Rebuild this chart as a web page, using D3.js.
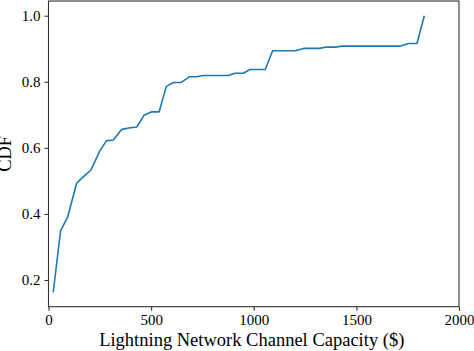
<!DOCTYPE html>
<html>
<head>
<meta charset="utf-8">
<script src="https://cdn.jsdelivr.net/npm/d3@7"></script>
<style>
  body { margin: 0; background: #fff; }
  svg { display: block; }
  .axis text { font-family: "Liberation Serif", "Times New Roman", serif; font-size: 15px; fill: #000; }
  .axis path, .axis line { stroke: #333; stroke-width: 1.1px; }
  .label { font-family: "Liberation Serif", "Times New Roman", serif; font-size: 18.5px; fill: #000; }
</style>
</head>
<body>
<svg width="474" height="351"></svg>
<script>
// channel capacity ($) and cumulative share
var capacity = [23, 59, 93, 113, 137, 165, 207, 250, 282, 316, 357, 392, 430, 466, 503, 539,
                574, 608, 647, 686, 722, 754, 876, 909, 950, 981, 1056, 1092, 1202, 1243,
                1321, 1354, 1397, 1430, 1714, 1755, 1795, 1831];
var cdf = [0.163, 0.349, 0.390, 0.437, 0.493, 0.510, 0.533, 0.591, 0.621, 0.624, 0.656, 0.660,
           0.663, 0.699, 0.709, 0.709, 0.786, 0.798, 0.798, 0.815, 0.815, 0.819, 0.819, 0.826,
           0.826, 0.837, 0.837, 0.894, 0.894, 0.901, 0.901, 0.905, 0.905, 0.908, 0.908, 0.916,
           0.916, 1.0];
var xTicks = [0, 500, 1000, 1500, 2000];
var yTicks = [0.2, 0.4, 0.6, 0.8, 1.0];

var plotLeft = 48.5, plotRight = 459, plotTop = 1, plotBottom = 306.7;

var xScale = d3.scaleLinear().domain([0, 2000]).range([plotLeft, plotRight]);
var yScale = d3.scaleLinear().domain([0.1192, 1.0445]).range([plotBottom, plotTop]);

var svg = d3.select('svg');

// frame
svg.append('rect')
    .attr('x', plotLeft).attr('y', plotTop)
    .attr('width', plotRight - plotLeft).attr('height', plotBottom - plotTop)
    .attr('fill', 'none')
    .attr('stroke', '#333')
    .attr('stroke-width', 1.1);

var serif = '"Liberation Serif", "Times New Roman", serif';

svg.append('g').attr('class', 'x axis')
    .attr('transform', 'translate(0,' + plotBottom + ')')
    .call(d3.axisBottom(xScale).tickValues(xTicks).tickSize(4).tickPadding(4).tickFormat(d3.format('d')))
    .attr('font-family', serif).attr('font-size', 15)
    .call(g => g.select('.domain').remove());

svg.append('g').attr('class', 'y axis')
    .attr('transform', 'translate(' + plotLeft + ',0)')
    .call(d3.axisLeft(yScale).tickValues(yTicks).tickSize(4).tickPadding(4).tickFormat(d3.format('.1f')))
    .attr('font-family', serif).attr('font-size', 15)
    .call(g => g.select('.domain').remove());

var data = capacity.map((c, i) => [c, cdf[i]]);

svg.append('path')
    .datum(data)
    .attr('d', d3.line().x(d => xScale(d[0])).y(d => yScale(d[1])))
    .attr('fill', 'none')
    .attr('stroke', '#1f77b4')
    .attr('stroke-width', 1.6)
    .attr('stroke-linejoin', 'round');

svg.append('text')
    .text('Lightning Network Channel Capacity ($)')
    .attr('class', 'label')
    .attr('text-anchor', 'middle')
    .attr('transform', 'translate(' + ((plotLeft + plotRight) / 2 - 2) + ',346)');

svg.append('text')
    .text('CDF')
    .attr('class', 'label')
    .attr('text-anchor', 'middle')
    .attr('transform', 'translate(11,' + ((plotTop + plotBottom) / 2) + ') rotate(-90)');
</script>
</body>
</html>
